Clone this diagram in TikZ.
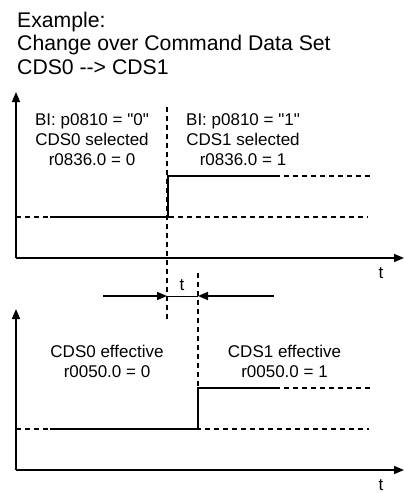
\documentclass[tikz,border=0pt]{standalone}
\usepackage{fontspec}
\setmainfont{Liberation Sans}[Ligatures=TeXOff]
\usetikzlibrary{arrows.meta}

\begin{document}
\begin{tikzpicture}[x=1pt, y=-1pt, >={Triangle[length=10pt, width=8pt]},
  axis/.style={line width=1.4pt, ->},
  sig/.style={line width=1.5pt},
  dashline/.style={line width=1.1pt, dash pattern=on 5pt off 4pt},
  sigtext/.style={font=\fontsize{17}{19.8}\selectfont, align=center, inner sep=0pt, anchor=base},
  titletext/.style={font=\fontsize{21.2}{23.5}\selectfont, align=left, inner sep=0pt, anchor=base west}]
  \useasboundingbox (0,0) rectangle (405,493);
  % title
  \node[titletext] (title1) at (17,27) {Example:};
  \node[titletext] (title2) at (17,50.5) {Change over Command Data Set};
  \node[titletext] (title3) at (17,74) {CDS0 --> CDS1};
  % upper diagram
  \coordinate (o1) at (16,258);
  \coordinate (y1) at (16,92);
  \coordinate (x1) at (404,258);
  \draw[axis] (o1) -- (y1);
  \draw[axis] (o1) -- (x1);
  \node[sigtext] (t1) at (381,278) {t};
  \coordinate (lo1s) at (16,217);
  \coordinate (lo1e) at (368,217);
  \coordinate (a1) at (50,217);
  \coordinate (a2) at (168,217);
  \coordinate (a3) at (168,176);
  \coordinate (a4) at (275,176);
  \coordinate (a5) at (372,176);
  \draw[dashline] (lo1s) -- (lo1e);
  \draw[sig] (a1) -- (a2) -- (a3) -- (a4);
  \draw[dashline] (a4) -- (a5);
  \coordinate (m1) at (167,107);
  \coordinate (m2) at (167,320);
  \draw[dashline] (m1) -- (m2);
  \node[sigtext] (sel0) at (92,165) {BI: p0810 = "0"\\CDS0 selected\\r0836.0 = 0};
  \node[sigtext] (sel1) at (243,165) {BI: p0810 = "1"\\CDS1 selected\\r0836.0 = 1};
  % delay t
  \coordinate (d1) at (103,296);
  \coordinate (d2) at (167,296);
  \coordinate (d3) at (198,296);
  \coordinate (d4) at (274,296);
  \draw[sig, ->] (d1) -- (d2);
  \draw[sig, ->] (d4) -- (d3);
  \draw[line width=1pt] (d2) -- (d3);
  \node[sigtext] (tdelay) at (182,290) {t};
  % lower diagram
  \coordinate (o2) at (16,470);
  \coordinate (y2) at (16,309);
  \coordinate (x2) at (404,470);
  \draw[axis] (o2) -- (y2);
  \draw[axis] (o2) -- (x2);
  \node[sigtext] (t2) at (381,490) {t};
  \coordinate (lo2s) at (16,429);
  \coordinate (lo2e) at (369,429);
  \coordinate (b1) at (50,429);
  \coordinate (b2) at (198,429);
  \coordinate (b3) at (198,388);
  \coordinate (b4) at (275,388);
  \coordinate (b5) at (372,388);
  \draw[dashline] (lo2s) -- (lo2e);
  \draw[sig] (b1) -- (b2) -- (b3) -- (b4);
  \draw[dashline] (b4) -- (b5);
  \coordinate (n1) at (198,273);
  \draw[dashline] (n1) -- (b3);
  \node[sigtext] (eff0) at (107,377) {CDS0 effective\\r0050.0 = 0};
  \node[sigtext] (eff1) at (284.5,377) {CDS1 effective\\r0050.0 = 1};
\end{tikzpicture}
\end{document}
